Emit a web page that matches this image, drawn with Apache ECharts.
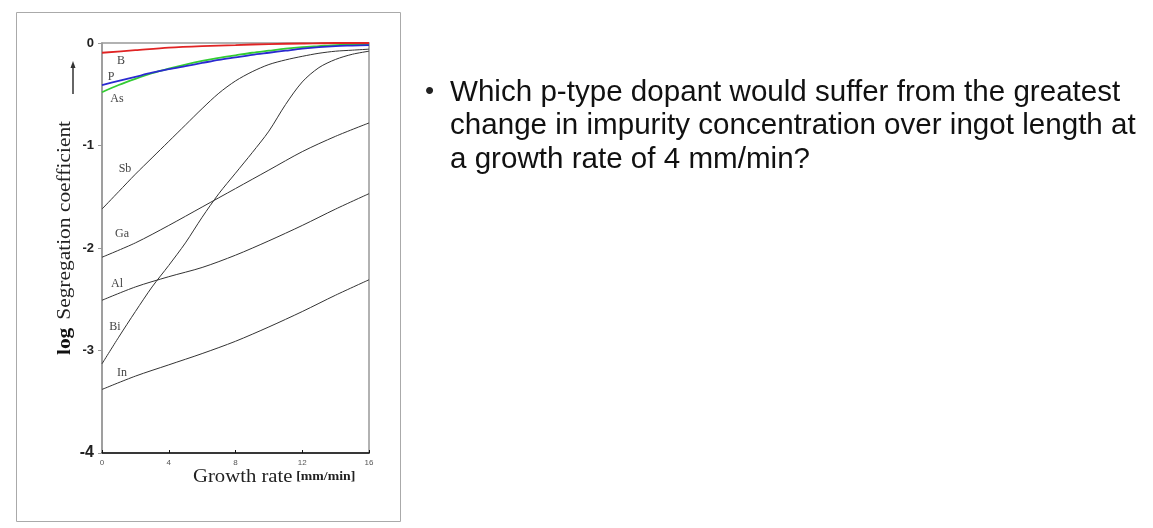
<!DOCTYPE html>
<html>
<head>
<meta charset="utf-8">
<script src="https://cdn.jsdelivr.net/npm/echarts@6/dist/echarts.min.js"></script>
<style>
html,body{margin:0;padding:0;background:#fff;}
#chart{width:1153px;height:528px;}
</style>
</head>
<body>
<div id="chart"></div>
<script>
// ---- data (growth rate mm/min, log segregation coefficient) ----
const seriesNames = ['B', 'P', 'As', 'Sb', 'Ga', 'Al', 'Bi', 'In'];
const B  = [[0,-0.095],[2,-0.07],[4,-0.045],[6,-0.03],[8,-0.02],[10,-0.01],[12,-0.005],[14,0],[16,0]];
const P  = [[0,-0.41],[1,-0.37],[2,-0.33],[3,-0.29],[4,-0.255],[5,-0.225],[6,-0.195],[7,-0.165],[8,-0.14],[9,-0.115],[10,-0.095],[11,-0.075],[12,-0.055],[13,-0.04],[14,-0.03],[15,-0.025],[16,-0.02]];
const As = [[0,-0.48],[1,-0.41],[2,-0.35],[3,-0.295],[4,-0.25],[5,-0.21],[6,-0.175],[7,-0.145],[8,-0.12],[9,-0.095],[10,-0.075],[11,-0.055],[12,-0.04],[13,-0.03],[14,-0.02],[15,-0.015],[16,-0.01]];
const Sb = [[0,-1.62],[1,-1.45],[2,-1.28],[3,-1.12],[4,-0.96],[5,-0.80],[6,-0.64],[7,-0.49],[8,-0.37],[9,-0.28],[10,-0.21],[11,-0.165],[12,-0.13],[13,-0.10],[14,-0.08],[15,-0.07],[16,-0.06]];
const Ga = [[0,-2.09],[2,-1.95],[4,-1.78],[6,-1.60],[8,-1.42],[10,-1.24],[12,-1.06],[14,-0.91],[16,-0.78]];
const Al = [[0,-2.51],[2,-2.38],[4,-2.28],[6,-2.19],[8,-2.07],[10,-1.93],[12,-1.78],[14,-1.62],[16,-1.47]];
const Bi = [[0,-3.13],[1,-2.87],[2,-2.62],[3,-2.38],[4,-2.17],[5,-1.95],[6,-1.70],[7,-1.47],[8,-1.27],[9,-1.07],[10,-0.86],[11,-0.60],[12,-0.38],[13,-0.24],[14,-0.16],[15,-0.11],[16,-0.08]];
const In = [[0,-3.38],[2,-3.25],[4,-3.14],[6,-3.03],[8,-2.91],[10,-2.77],[12,-2.62],[14,-2.46],[16,-2.31]];
// where each element's name is written (data units)
const labelPositions = [[1.14,-0.17],[0.54,-0.33],[0.9,-0.54],[1.38,-1.23],[1.2,-1.86],[0.9,-2.35],[0.78,-2.77],[1.2,-3.22]];
const xTicks = [0, 4, 8, 12, 16];
const yTicks = [0, -1, -2, -3, -4];
const questionLines = [
  'Which p-type dopant would suffer from the greatest',
  'change in impurity concentration over ingot length at',
  'a growth rate of 4 mm/min?'
];

const allData = [B, P, As, Sb, Ga, Al, Bi, In];
const colors = ['#e02424', '#2a2ad0', '#33cc33', '#333', '#333', '#333', '#333', '#333'];

const chart = echarts.init(document.getElementById('chart'), null, {renderer: 'canvas'});

const series = allData.map((d, i) => ({
  name: seriesNames[i],
  type: 'line',
  data: d,
  smooth: 0.3,
  showSymbol: false,
  symbol: 'none',
  z: i < 3 ? 5 - i : 2,
  lineStyle: {color: colors[i], width: i < 3 ? 1.8 : 1},
  markPoint: {
    symbol: 'circle', symbolSize: 0, silent: true,
    data: [{coord: labelPositions[i]}],
    label: {show: true, formatter: seriesNames[i], color: '#444',
      fontFamily: 'Liberation Serif', fontSize: 12, position: 'inside'}
  }
}));

const option = {
  animation: false,
  backgroundColor: '#fff',
  grid: {left: 102, right: 784, top: 43, bottom: 75, show: true, borderColor: '#999', borderWidth: 1.5},
  xAxis: {
    type: 'value', min: 0, max: 16, interval: 4,
    axisLine: {show: true, onZero: false, lineStyle: {color: '#111', width: 1.5}},
    axisTick: {show: true, inside: true, length: 3, lineStyle: {color: '#111'}},
    splitLine: {show: false},
    axisLabel: {color: '#555', fontSize: 8, margin: 6, fontFamily: 'Liberation Sans',
      customValues: xTicks, formatter: v => String(v)}
  },
  yAxis: {
    type: 'value', min: -4, max: 0, interval: 1,
    axisLine: {show: true, lineStyle: {color: '#999', width: 1.5}},
    axisTick: {show: true, length: 4, lineStyle: {color: '#999'}},
    splitLine: {show: false},
    axisLabel: {color: '#222', fontSize: 13, fontWeight: 'bold', fontFamily: 'Liberation Sans', margin: 8,
      customValues: yTicks,
      formatter: v => v === -4 ? '{big|-4}' : String(v),
      rich: {big: {fontSize: 16, fontWeight: 'bold', fontFamily: 'Liberation Sans', color: '#222'}}}
  },
  series: series,
  graphic: [
    {type: 'rect', shape: {x: 16.5, y: 12.5, width: 384, height: 509}, style: {fill: 'none', stroke: '#aaa', lineWidth: 1}, silent: true},
    // arrow
    {type: 'line', shape: {x1: 73, y1: 94, x2: 73, y2: 66}, style: {stroke: '#333', lineWidth: 1.5}},
    {type: 'polygon', shape: {points: [[70.5, 68], [75.5, 68], [73, 61]]}, style: {fill: '#333'}},
    // y axis name
    {type: 'text', x: 65, y: 238, rotation: Math.PI / 2, scaleX: 1.19,
      style: {text: '{b|log}  {s|Segregation coefficient}', align: 'center', verticalAlign: 'middle',
        rich: {b: {fontFamily: 'Liberation Serif', fontWeight: 'bold', fontSize: 18, fill: '#111'},
               s: {fontFamily: 'Liberation Serif', fontSize: 18, fill: '#222'}}}},
    // x axis name
    {type: 'text', x: 193, y: 477, scaleX: 1.15,
      style: {text: '{g|Growth rate} {u|[mm/min]}', align: 'left', verticalAlign: 'middle',
        rich: {g: {fontFamily: 'Liberation Serif', fontSize: 18, fill: '#222'},
               u: {fontFamily: 'Liberation Serif', fontWeight: 'bold', fontSize: 12, fill: '#222'}}}},
    // bullet text
    {type: 'text', x: 425, y: 92, style: {text: '•', fontFamily: 'Liberation Sans', fontSize: 26, fill: '#222', verticalAlign: 'middle'}},
    {type: 'text', x: 450, y: 92.5, scaleX: 1.02, style: {text: questionLines[0], fontFamily: 'Liberation Sans', fontSize: 29, fill: '#111', verticalAlign: 'middle'}},
    {type: 'text', x: 450, y: 126, scaleX: 1.02, style: {text: questionLines[1], fontFamily: 'Liberation Sans', fontSize: 29, fill: '#111', verticalAlign: 'middle'}},
    {type: 'text', x: 450, y: 159.5, scaleX: 1.02, style: {text: questionLines[2], fontFamily: 'Liberation Sans', fontSize: 29, fill: '#111', verticalAlign: 'middle'}}
  ]
};
chart.setOption(option);
</script>
</body>
</html>
